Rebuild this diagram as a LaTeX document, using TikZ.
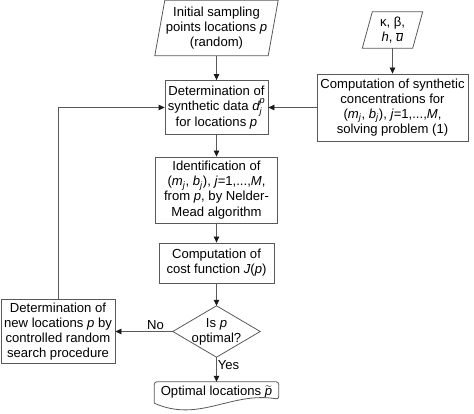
\documentclass[tikz,border=0pt]{standalone}
\usepackage{amsmath}
\usepackage{fontspec}
\setmainfont{Liberation Sans}
\usetikzlibrary{arrows.meta}
\newcommand{\vi}[1]{\textit{#1}}
\begin{document}
\begin{tikzpicture}[>={Triangle[length=6pt,width=5.5pt,color=black!90]},x=1pt,y=1pt,
	line/.style={draw=black!65,line width=0.8pt},
	box/.style={line,align=center,inner sep=1pt,font=\fontsize{13.1}{15.2}\selectfont},
	txt/.style={align=center,inner sep=1pt,font=\fontsize{13.1}{15.2}\selectfont}]
		\useasboundingbox (0,0) rectangle (474,413);
		\node[txt,minimum width=123pt,minimum height=55pt] (init) at (216.5,385) {Initial sampling\\points locations \vi{p}\\(random)};
		\node[txt,minimum width=60pt,minimum height=36pt] (param) at (392.5,383) {κ, β,\\\vi{h}, $\overline{\vi{u}}$};
		\node[box,minimum width=151pt,minimum height=67pt] (comp) at (392.5,305.5) {Computation of synthetic\\concentrations for\\(\vi{m}\textsubscript{\vi{j}}, \vi{b}\textsubscript{\vi{j}}), \vi{j}=1,...,\vi{M},\\solving problem (1)};
		\node[box,minimum width=103pt,minimum height=54pt] (det) at (216.5,305.5) {Determination of\\synthetic data $\vi{d}^{\vi{p}}_{\vi{j}}$\\for locations \vi{p}};
		\node[box,minimum width=122pt,minimum height=66pt] (ident) at (216.5,223) {Identification of\\(\vi{m}\textsubscript{\vi{j}}, \vi{b}\textsubscript{\vi{j}}), \vi{j}=1,...,\vi{M},\\from \vi{p}, by Nelder-\\Mead algorithm};
		\node[box,minimum width=115pt,minimum height=40pt] (cost) at (216.5,150) {Computation of\\cost function \vi{J}(\vi{p})};
		\node[txt,minimum width=87pt,minimum height=51pt] (opt) at (216.5,81.5) {Is \vi{p}\\optimal?};
		\node[box,minimum width=114pt,minimum height=64pt] (newloc) at (58,81.5) {Determination of\\new locations \vi{p} by\\controlled random\\search procedure};
		\node[txt,minimum width=124pt,minimum height=20pt] (res) at (216.5,21) {Optimal locations $\widetilde{\vi{p}}$};
		\draw[line] ([xshift=10pt]init.north west) -- (init.north east) -- ([xshift=-10pt]init.south east) -- (init.south west) -- cycle;
		\draw[line] ([xshift=10pt]param.north west) -- (param.north east) -- ([xshift=-10pt]param.south east) -- (param.south west) -- cycle;
		\draw[line] (opt.north) -- (opt.east) -- (opt.south) -- (opt.west) -- cycle;
		\draw[line,rounded corners=2.5pt] ([yshift=-1pt]res.south west) -- (res.north west) -- (res.north east) -- ([yshift=3pt]res.south east)
			[sharp corners] .. controls ([xshift=-48pt,yshift=11pt]res.south east) and ([xshift=45pt,yshift=-21pt]res.south west) .. ([yshift=-1pt]res.south west);
		\draw[line,->] (init) -- (det);
		\draw[line,->] (param) -- (comp);
		\draw[line,->] (comp) -- (det);
		\draw[line,->] (det) -- (ident);
		\draw[line,->] (ident) -- (cost);
		\draw[line,->] (cost) -- (opt.north);
		\draw[line,->] (opt.west) -- node[txt,above,pos=0.3]{No} (newloc);
		\draw[line,->] (opt.south) -- node[txt,right,pos=0.3]{Yes} (res);
		\draw[line,->] (newloc) |- (det);
\end{tikzpicture}
\end{document}
